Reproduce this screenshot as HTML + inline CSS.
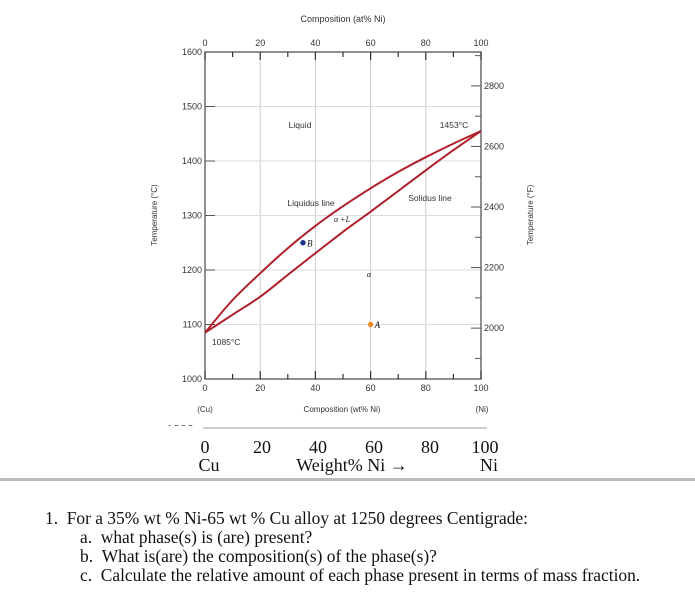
<!DOCTYPE html>
<html><head><meta charset="utf-8"><style>
html,body{margin:0;padding:0;background:#fff;width:695px;height:608px;overflow:hidden}
svg{display:block}
.s{font-family:"Liberation Sans",sans-serif;fill:#333}
.r{font-family:"Liberation Serif",serif;fill:#111}
</style></head><body>
<svg width="695" height="608">
<defs><clipPath id="cut"><rect x="0" y="418" width="695" height="8"/></clipPath></defs>
<g id="chart"></g>
<g>
<line x1="203" y1="428" x2="487" y2="428" stroke="#999" stroke-width="1"/>
<text class="r" x="166" y="434" font-size="14" fill="#444" clip-path="url(#cut)">1000</text>
<g id="wscale" font-size="18"></g>
<text class="r" x="209" y="471" font-size="18" text-anchor="middle">Cu</text>
<text class="r" x="352" y="471" font-size="18" text-anchor="middle">Weight% Ni →</text>
<text class="r" x="489" y="471" font-size="18" text-anchor="middle">Ni</text>
</g>
<rect x="0" y="478" width="695" height="3" fill="#bbb"/>
<g class="r" font-size="17.4">
<text x="45" y="524">1.&#160;&#160;For a 35% wt % Ni-65 wt % Cu alloy at 1250 degrees Centigrade:</text>
<text x="80" y="543">a.&#160;&#160;what phase(s) is (are) present?</text>
<text x="80" y="562">b.&#160;&#160;What is(are) the composition(s) of the phase(s)?</text>
<text x="80" y="581">c.&#160;&#160;Calculate the relative amount of each phase present in terms of mass fraction.</text>
</g>
</svg>
<script>
const xTicks=[0,20,40,60,80,100];
const cTicks=[1000,1100,1200,1300,1400,1500,1600];
const fTicks=[2000,2200,2400,2600,2800];
const liqX=[0,10,20,30,40,50,60,70,80,90,100];
const liqT=[1085,1145,1194,1240,1281,1317,1350,1380,1407,1432,1455];
const solX=[0,10,20,30,40,50,60,70,80,90,100];
const solT=[1085,1118,1151,1191,1231,1270,1307,1345,1383,1420,1455];
const ptNames=["B","A"];
const ptX=[35.5,60];
const ptT=[1250,1100];
const NS="http://www.w3.org/2000/svg";
const X0=205,X1=481,Y0=379,Y1=52;
const sx=v=>X0+(v/100)*(X1-X0);
const sy=t=>Y0-(t-1000)/600*(Y0-Y1);
const sf=f=>sy((f-32)*5/9);
const g=document.getElementById('chart');
function mk(tag,a,txt){const e=document.createElementNS(NS,tag);for(const k in a)e.setAttribute(k,a[k]);if(txt!==undefined)e.textContent=txt;return e;}
xTicks.forEach(v=>{if(v>0&&v<100){const l=mk('line',{x1:sx(v),x2:sx(v),y1:Y1,y2:Y0,stroke:'#ccc','stroke-width':1});

g.appendChild(l);}});
cTicks.forEach(t=>{if(t>1000&&t<1600){const l=mk('line',{x1:X0,x2:X1,y1:sy(t),y2:sy(t),stroke:'#ddd','stroke-width':1});

g.appendChild(l);}});
const fr=mk('rect',{x:X0,y:Y1,width:X1-X0,height:Y0-Y1,fill:'none',stroke:'#555','stroke-width':1.3});

g.appendChild(fr);
for(let v=0;v<=100;v+=10){const len=v%20===0?8:5;
[[Y1,Y1+len],[Y0,Y0-len]].forEach(p=>{const l=mk('line',{x1:sx(v),x2:sx(v),y1:p[0],y2:p[1],stroke:'#333','stroke-width':1.2});

g.appendChild(l);});}
xTicks.forEach(v=>{
const a=mk('text',{x:sx(v),y:Y1-6,'font-size':9,'text-anchor':'middle',class:'s'},v);

g.appendChild(a);
const b=mk('text',{x:sx(v),y:Y0+12,'font-size':9,'text-anchor':'middle',class:'s'},v);

g.appendChild(b);});
cTicks.forEach(t=>{const l=mk('line',{x1:X0,x2:X0+10,y1:sy(t),y2:sy(t),stroke:'#555'});

g.appendChild(l);
const tx=mk('text',{x:X0-3,y:sy(t)+3,'font-size':9,'text-anchor':'end',class:'s'},t);

g.appendChild(tx);});
for(let f=1900;f<=2900;f+=100){const y=sf(f);if(y<Y1||y>Y0)continue;const major=f%200===0;
const l=mk('line',{x1:X1,x2:X1-(major?10:6),y1:y,y2:y,stroke:'#555'});

g.appendChild(l);}
fTicks.forEach(f=>{const tx=mk('text',{x:X1+3,y:sf(f)+3,'font-size':9,class:'s'},f);

g.appendChild(tx);});
function curve(xs,ts,name){
const P=xs.map((v,i)=>[sx(v),sy(ts[i])]);
let d='M'+P[0][0].toFixed(1)+','+P[0][1].toFixed(1);
for(let i=0;i<P.length-1;i++){const p0=P[Math.max(0,i-1)],p1=P[i],p2=P[i+1],p3=P[Math.min(P.length-1,i+2)];
const c1=[p1[0]+(p2[0]-p0[0])/6,p1[1]+(p2[1]-p0[1])/6],c2=[p2[0]-(p3[0]-p1[0])/6,p2[1]-(p3[1]-p1[1])/6];
d+=' C'+c1.map(n=>n.toFixed(1)).join(',')+' '+c2.map(n=>n.toFixed(1)).join(',')+' '+p2.map(n=>n.toFixed(1)).join(',');}
const p=mk('path',{d:d,fill:'none',stroke:'#b0202a','stroke-width':2,'stroke-linejoin':'round'});

g.appendChild(p);}
curve(liqX,liqT,'liquidus-line');curve(solX,solT,'solidus-line');
const cols=["#1a2f8a","#f08a20"];
ptX.forEach((v,i)=>{const c=mk('circle',{cx:sx(v),cy:sy(ptT[i]),r:2.7,fill:cols[i]});

g.appendChild(c);
const t=mk('text',{x:sx(v)+4,y:sy(ptT[i])+3.5,'font-size':9,'font-style':'italic',class:'r'},ptNames[i]);

g.appendChild(t);});
const labels=[["Composition (at% Ni)",343,22,9,'middle','s',''],["Liquid",300,128,8.5,'middle','s',''],["1453°C",454,128,8.5,'middle','s',''],
["Liquidus line",311,206,8.5,'middle','s',''],["Solidus line",430,201,8.5,'middle','s',''],["α +L",342,222,8,'middle','r','italic'],
["α",369,277,8,'middle','r','italic'],["1085°C",212,345,8.5,'start','s',''],["(Cu)",205,412,8,'middle','s',''],
["Composition (wt% Ni)",342,412,8,'middle','s',''],["(Ni)",482,412,8,'middle','s','']];
labels.forEach(L=>{const t=mk('text',{x:L[1],y:L[2],'font-size':L[3],'text-anchor':L[4],class:L[5],'font-style':L[6]||'normal'},L[0]);

g.appendChild(t);});
const yl=mk('text',{transform:'translate(157,215) rotate(-90)','font-size':8,'text-anchor':'middle',class:'s'},'Temperature (°C)');

g.appendChild(yl);
const yr=mk('text',{transform:'translate(533,215) rotate(-90)','font-size':8,'text-anchor':'middle',class:'s'},'Temperature (°F)');

g.appendChild(yr);
const ws=document.getElementById('wscale');
const wPos=[205,262,318,374,430,485];
xTicks.forEach((v,i)=>{const t=mk('text',{x:wPos[i],y:453,'text-anchor':'middle',class:'r'},v);

ws.appendChild(t);});
</script>
</body></html>
